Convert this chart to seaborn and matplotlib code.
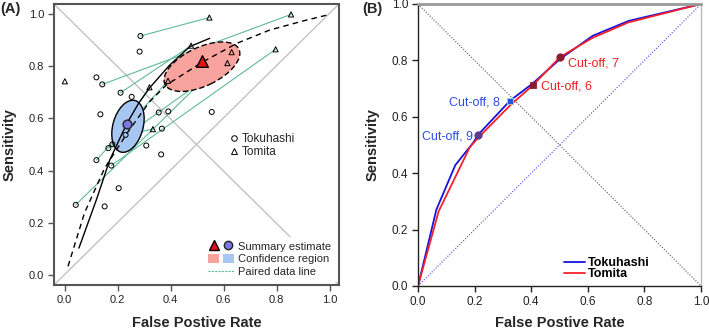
import numpy as np
import pandas as pd
import matplotlib
matplotlib.use("Agg")
import matplotlib.pyplot as plt
import seaborn as sns
from matplotlib.patches import Ellipse, Patch
from matplotlib.lines import Line2D
from matplotlib.legend_handler import HandlerTuple

# --- data, panel A ---
tok_fpr = [0.286, 0.283, 0.120, 0.142, 0.211, 0.253, 0.135, 0.355, 0.391, 0.555, 0.367,
           0.230, 0.308, 0.180, 0.165, 0.120, 0.176, 0.364, 0.204, 0.151, 0.042]
tok_sens = [0.917, 0.857, 0.758, 0.731, 0.699, 0.683, 0.616, 0.623, 0.627, 0.625, 0.561,
            0.537, 0.496, 0.501, 0.486, 0.440, 0.419, 0.462, 0.332, 0.262, 0.268]
tom_fpr = [0.546, 0.854, 0.001, 0.477, 0.630, 0.614, 0.796, 0.390, 0.320, 0.333]
tom_sens = [0.988, 1.000, 0.743, 0.880, 0.855, 0.813, 0.866, 0.745, 0.720, 0.559]

# paired study lines (index into tokuhashi list, index into tomita list)
pair_tok = [0, 3, 4, 13, 15, 20, 14, 16, 11]
pair_tom = [0, 1, 3, 8, 7, 4, 5, 6, 9]

# SROC curves
sroc_tok_x = [0.054, 0.120, 0.170, 0.234, 0.280, 0.321, 0.396, 0.472, 0.547]
sroc_tok_y = [0.102, 0.288, 0.440, 0.579, 0.660, 0.718, 0.805, 0.876, 0.908]
sroc_tom_x = [0.013, 0.075, 0.151, 0.240, 0.321, 0.384, 0.522, 0.650, 0.774, 0.900, 1.000]
sroc_tom_y = [0.032, 0.237, 0.409, 0.550, 0.665, 0.729, 0.818, 0.889, 0.940, 0.975, 1.000]

# summary estimates and confidence regions (centre, width, height, angle)
sum_tok = (0.234, 0.579)
sum_tom = (0.520, 0.821)
ell_tok = (0.239, 0.570, 0.205, 0.114, 75)
ell_tom = (0.518, 0.799, 0.310, 0.148, 26)

# --- data, panel B ---
roc_tok_x = [0.0, 0.065, 0.132, 0.195, 0.212, 0.325, 0.405, 0.502, 0.617, 0.744, 1.0]
roc_tok_y = [0.0, 0.271, 0.429, 0.508, 0.536, 0.657, 0.718, 0.805, 0.887, 0.940, 1.0]
roc_tom_x = [0.0, 0.073, 0.183, 0.212, 0.325, 0.405, 0.502, 0.617, 0.744, 1.0]
roc_tom_y = [0.0, 0.265, 0.492, 0.525, 0.640, 0.711, 0.812, 0.880, 0.935, 1.0]
cut_labels = ["Cut-off, 9", "Cut-off, 8", "Cut-off, 6", "Cut-off, 7"]
cut_x = [0.212, 0.325, 0.405, 0.502]
cut_y = [0.536, 0.657, 0.711, 0.812]

sns.set_style("ticks")
plt.rcParams['font.family'] = ['Liberation Sans', 'DejaVu Sans']

fig = plt.figure(figsize=(7.09, 3.31), dpi=100)
axA = fig.add_axes([54 / 709, 1 - 285 / 331, 285 / 709, 281 / 331])
axB = fig.add_axes([418 / 709, 1 - 286 / 331, 283 / 709, 282 / 331])

green = "#5fba97"
pink = "#f8a39e"
lblue = "#a8c6f2"

# ---------------- panel A ----------------
axA.plot([0, 1], [0, 1], transform=axA.transAxes, color="#bdbdbd", lw=0.9, zorder=0)
axA.plot([0, 1], [1, 0], transform=axA.transAxes, color="#bdbdbd", lw=0.9, zorder=0)

pairs = []
for k, (i, j) in enumerate(zip(pair_tok, pair_tom)):
    pairs.append({"pair": k, "x": tok_fpr[i], "y": tok_sens[i]})
    pairs.append({"pair": k, "x": tom_fpr[j], "y": tom_sens[j]})
pairs = pd.DataFrame(pairs)
sns.lineplot(data=pairs, x="x", y="y", units="pair", estimator=None, sort=False,
             color=green, lw=0.8, ax=axA, zorder=1)

for (cx, cy, w, h, ang), fc, ls in [(ell_tom, pink, (0, (4, 2))), (ell_tok, lblue, "-")]:
    axA.add_patch(Ellipse((cx, cy), w, h, angle=ang, facecolor=fc, edgecolor="black",
                          lw=1.0, linestyle=ls, zorder=2))

sns.lineplot(x=sroc_tom_x, y=sroc_tom_y, sort=False, color="black", lw=1.0,
             linestyle=(0, (4, 3)), ax=axA, zorder=3)
sns.lineplot(x=sroc_tok_x, y=sroc_tok_y, sort=False, color="black", lw=1.0, ax=axA, zorder=3)

sns.scatterplot(x=tok_fpr, y=tok_sens, marker="o", s=13, fc="none", ec="black",
                linewidth=0.7, ax=axA, zorder=4)
sns.scatterplot(x=tom_fpr, y=tom_sens, marker="^", s=14, fc="none", ec="black",
                linewidth=0.7, ax=axA, zorder=4)
sns.scatterplot(x=[sum_tom[0]], y=[sum_tom[1]], marker="^", s=70, color="#e3101b",
                ec="black", linewidth=1.0, ax=axA, zorder=5)
sns.scatterplot(x=[sum_tok[0]], y=[sum_tok[1]], marker="o", s=40, color="#7a78e6",
                ec="#222222", linewidth=1.0, ax=axA, zorder=5)

axA.set_xlim(-0.04, 1.035)
axA.set_ylim(-0.04, 1.04)
ticks = [0.0, 0.2, 0.4, 0.6, 0.8, 1.0]
axA.set_xticks(ticks)
axA.set_yticks(ticks)
axA.set_xticklabels([f"{t:.1f}" for t in ticks], fontsize=8, color="#222222")
axA.set_yticklabels([f"{t:.1f}" for t in ticks], fontsize=8, color="#222222")
axA.tick_params(direction="out", length=4, width=1.0, color="#555555", pad=3)
for sp in axA.spines.values():
    sp.set_color("#555555")
    sp.set_linewidth(1.5)
axA.set_xlabel("False Postive Rate", fontsize=10.5, fontweight="bold", labelpad=8)
axA.set_ylabel("Sensitivity", fontsize=10.5, fontweight="bold", labelpad=9)

h1 = [Line2D([], [], marker="o", ls="none", mfc="none", mec="black", ms=4, mew=0.7),
      Line2D([], [], marker="^", ls="none", mfc="none", mec="black", ms=4, mew=0.7)]
leg1 = axA.legend(h1, ["Tokuhashi", "Tomita"], loc="center left",
                  bbox_to_anchor=(0.6, 0.497), frameon=False, fontsize=8.5,
                  handlelength=0.6, handletextpad=0.3, labelspacing=0.05, borderpad=0)
axA.add_artist(leg1)

h2 = [(Line2D([], [], marker="^", ls="none", mfc="#e3101b", mec="black", ms=7, mew=1.0),
       Line2D([], [], marker="o", ls="none", mfc="#7a78e6", mec="#222222", ms=6, mew=1.0)),
      (Patch(fc=pink, ec="none"), Patch(fc=lblue, ec="none")),
      Line2D([], [], color=green, lw=0.8, ls=(0, (2, 1)))]
leg2 = axA.legend(h2, ["Summary estimate", "Confidence region", "Paired data line"],
                  handler_map={tuple: HandlerTuple(ndivide=None, pad=0.3)},
                  loc="lower right", bbox_to_anchor=(1.0, 0.0), fontsize=8,
                  frameon=True, framealpha=1, edgecolor="none", fancybox=False,
                  handlelength=2.3, handleheight=0.95, handletextpad=0.4,
                  labelspacing=0.2, borderpad=0.4, borderaxespad=0.3)
leg2.set_zorder(6)

fig.text(0.0, 0.995, "(A)", fontsize=10.5, fontweight="bold", va="top", ha="left")

# ---------------- panel B ----------------
axB.plot([0, 1], [1, 0], color="#555555", lw=0.8, ls=(0, (1, 1.5)), zorder=0)
axB.plot([0, 1], [0, 1], color="#4a4ae0", lw=0.8, ls=(0, (1, 1.5)), zorder=0)

roc = pd.concat([
    pd.DataFrame({"fpr": roc_tok_x, "sens": roc_tok_y, "score": "Tokuhashi"}),
    pd.DataFrame({"fpr": roc_tom_x, "sens": roc_tom_y, "score": "Tomita"}),
])
sns.lineplot(data=roc, x="fpr", y="sens", hue="score", sort=False, estimator=None,
             palette={"Tokuhashi": "#1414dc", "Tomita": "#f5202c"}, lw=1.3, ax=axB,
             zorder=2)

cut_colors = ["#5e3a8a", "#2456d8", "#8c1b2e", "#8c1b2e"]
cut_markers = ["o", "s", "s", "o"]
for xx, yy, c, m in zip(cut_x, cut_y, cut_colors, cut_markers):
    sns.scatterplot(x=[xx], y=[yy], marker=m, s=28 if m == "o" else 20, color=c,
                    ec="#9fd8d0" if c == "#2456d8" else c, linewidth=0.6, ax=axB, zorder=4)

txt_blue = "#2a4fe6"
txt_red = "#ee1f26"
axB.text(cut_x[0] - 0.018, cut_y[0] - 0.005, cut_labels[0], color=txt_blue, fontsize=9,
         ha="right", va="center")
axB.text(cut_x[1] - 0.036, cut_y[1] - 0.005, cut_labels[1], color=txt_blue, fontsize=9,
         ha="right", va="center")
axB.text(cut_x[2] + 0.028, cut_y[2] - 0.003, cut_labels[2], color=txt_red, fontsize=9,
         ha="left", va="center")
axB.text(cut_x[3] + 0.027, cut_y[3] - 0.024, cut_labels[3], color=txt_red, fontsize=9,
         ha="left", va="center")

axB.set_xlim(0, 1)
axB.set_ylim(0, 1)
axB.set_xticks(ticks)
axB.set_yticks(ticks)
axB.set_xticklabels([f"{t:.1f}" for t in ticks], fontsize=8.5, color="#222222")
axB.set_yticklabels([f"{t:.1f}" for t in ticks], fontsize=8.5, color="#222222")
axB.tick_params(direction="out", length=4, width=1.0, color="#222222", pad=3)
for side in ["left", "bottom"]:
    axB.spines[side].set_color("#222222")
    axB.spines[side].set_linewidth(1.0)
axB.spines["top"].set_color("#999999")
axB.spines["top"].set_linewidth(2.0)
axB.spines["right"].set_color("#bbbbbb")
axB.spines["right"].set_linewidth(1.0)
axB.set_xlabel("False Postive Rate", fontsize=10.5, fontweight="bold", labelpad=6)
axB.set_ylabel("Sensitivity", fontsize=10.5, fontweight="bold", labelpad=9)

legB = axB.legend(loc="lower right", bbox_to_anchor=(0.82, 0.02), frameon=False,
                  handlelength=1.7, handletextpad=0.25, labelspacing=-0.05, borderpad=0,
                  borderaxespad=0, prop={"weight": "bold", "size": 9})
for t in legB.get_texts():
    t.set_color("black")

fig.text(362 / 709, 0.995, "(B)", fontsize=10.5, fontweight="bold", va="top", ha="left")

plt.savefig("out.png", dpi=100)
